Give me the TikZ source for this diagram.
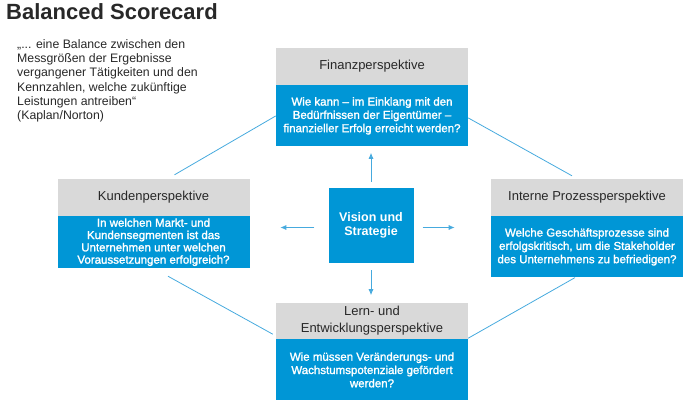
\documentclass[tikz,border=0pt]{standalone}
\usepackage{fontspec}
\setmainfont{Liberation Sans}
\usepackage{xcolor}
\usetikzlibrary{positioning, arrows.meta}

\definecolor{bscblue}{RGB}{0,150,214}
\definecolor{bscgray}{RGB}{217,217,217}
\definecolor{bscline}{RGB}{70,170,222}
\definecolor{bsctext}{RGB}{40,40,40}

\tikzset{
  head/.style={fill=bscgray, minimum width=192pt, minimum height=37pt, inner sep=2pt,
    text=bsctext, align=center, font=\fontsize{13}{17}\selectfont},
  body/.style={fill=bscblue, minimum width=192pt, inner sep=2pt, text=white,
    align=center, font=\fontsize{11.5}{13.3}\selectfont\addfontfeature{FakeBold=1.6}},
  link/.style={bscline, line width=0.8pt},
  arr/.style={bscline, line width=0.8pt, -{Latex[length=6pt,width=5pt]}}
}

\begin{document}
\begin{tikzpicture}[x=1pt, y=-1pt]

    % ==========================================
    % CANVAS, TITLE & QUOTE
    % ==========================================

    \useasboundingbox (0,0) rectangle (698,407);

    \node[anchor=base west, inner sep=0, text=bsctext,
          font=\bfseries\fontsize{22}{26}\selectfont] (title) at (6,19) {Balanced Scorecard};

    \node[anchor=north west, inner sep=0, align=left, text=bsctext,
          font=\fontsize{12.3}{14.3}\selectfont] (quote) at (17,39)
          {„... eine Balance zwischen den\\Messgrößen der Ergebnisse\\vergangener Tätigkeiten und den\\Kennzahlen, welche zukünftige\\Leistungen antreiben“\\(Kaplan/Norton)};

    % ==========================================
    % PERSPECTIVES (grey head + blue body)
    % ==========================================

    % Finanzen (top)
    \node[head] (fin_head) at (372,66.5) {Finanzperspektive};
    \node[body, minimum height=61pt, below=0pt of fin_head] (fin_body)
          {Wie kann – im Einklang mit den\\Bedürfnissen der Eigentümer –\\finanzieller Erfolg erreicht werden?};

    % Kunden (left)
    \node[head] (kun_head) at (153.5,197.5) {Kundenperspektive};
    \node[body, minimum height=51pt, below=0pt of kun_head,
          font=\fontsize{11.5}{12.3}\selectfont\addfontfeature{FakeBold=1.6}] (kun_body)
          {In welchen Markt- und\\Kundensegmenten ist das\\Unternehmen unter welchen\\Voraussetzungen erfolgreich?};

    % Interne Prozesse (right)
    \node[head] (pro_head) at (587,197.5) {Interne Prozessperspektive};
    \node[body, minimum height=61pt, below=0pt of pro_head] (pro_body)
          {Welche Geschäftsprozesse sind\\erfolgskritisch, um die Stakeholder\\des Unternehmens zu befriedigen?};

    % Lernen und Entwicklung (bottom)
    \node[head, minimum height=36pt] (lern_head) at (372,321) {Lern- und\\Entwicklungsperspektive};
    \node[body, minimum height=61pt, below=0pt of lern_head] (lern_body)
          {Wie müssen Veränderungs- und\\Wachstumspotenziale gefördert\\werden?};

    % Vision (centre)
    \node[fill=bscblue, minimum width=85pt, minimum height=75pt, text=white, align=center,
          font=\bfseries\fontsize{12.5}{14}\selectfont] (vision) at (371,225.5) {Vision und\\Strategie};

    % ==========================================
    % CONNECTING LINES & ARROWS
    % ==========================================

    % Diamond of thin lines between the perspectives
    \draw[link] (fin_body.west) -- ([shift={(21pt,4pt)}]kun_head.north);
    \draw[link] ([yshift=-2pt]fin_body.east) -- ([shift={(-15pt,3pt)}]pro_head.north);
    \draw[link] ([shift={(14.5pt,-8pt)}]kun_body.south) -- ([shift={(-3pt,5pt)}]lern_body.north west);
    \draw[link] ([xshift=-12pt]pro_body.south) -- ([yshift=1pt]lern_body.north east);

    % Arrows out of the vision box
    \draw[arr] ([yshift=6pt]vision.north) -- ([yshift=35pt]vision.north);
    \draw[arr] ([yshift=-7pt]vision.south) -- ([yshift=-32pt]vision.south);
    \draw[arr] ([shift={(-14pt,-2pt)}]vision.west) -- ([shift={(-48pt,-2pt)}]vision.west);
    \draw[arr] ([shift={(9pt,-2pt)}]vision.east) -- ([shift={(41pt,-2pt)}]vision.east);

\end{tikzpicture}
\end{document}
